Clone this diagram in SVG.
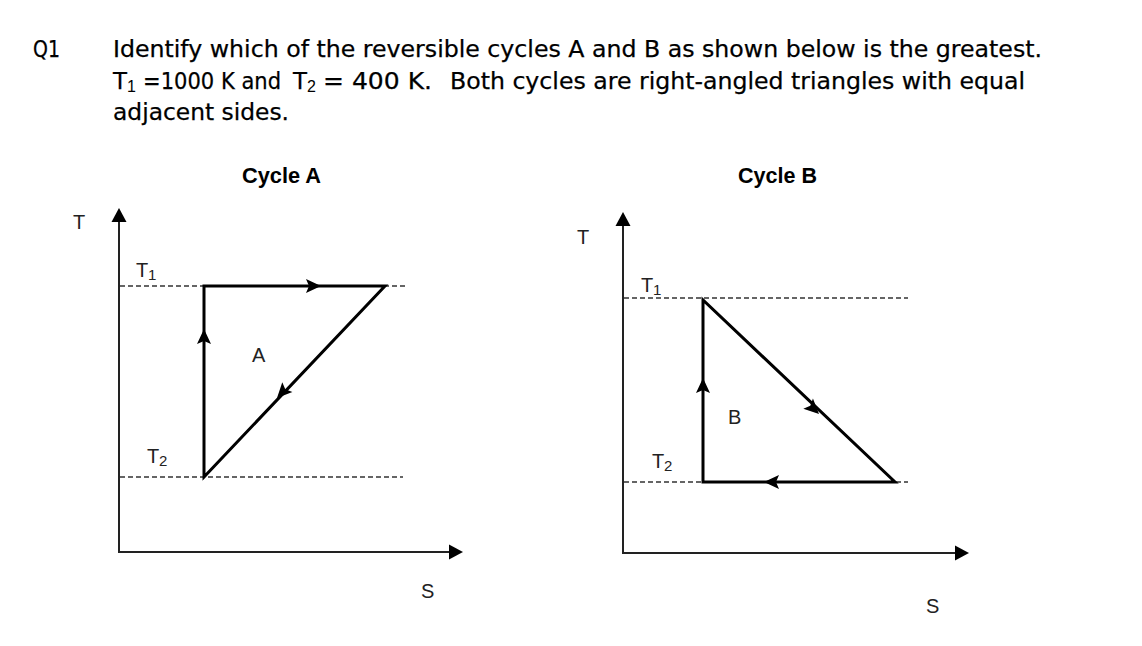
<svg xmlns="http://www.w3.org/2000/svg" width="1142" height="646" viewBox="0 0 1142 646">
<style>
.hd{font-family:"DejaVu Sans",Verdana,sans-serif;font-size:23px;fill:#000;stroke:#000;stroke-width:0.25}
.sub{font-family:"Liberation Sans",Arial,sans-serif;font-size:16px;fill:#000}
.lb{font-family:"Liberation Sans",Arial,sans-serif;font-size:20px;fill:#222}
.lsub{font-family:"Liberation Sans",Arial,sans-serif;font-size:15px;fill:#222}
.ttl{font-family:"Liberation Sans",Arial,sans-serif;font-size:22px;font-weight:bold;fill:#000}
.axis{stroke:#222;stroke-width:2;fill:none}
.dash{stroke:#333;stroke-width:1.5;stroke-dasharray:5 3;fill:none}
.cyc{stroke:#000;stroke-width:3;fill:none;stroke-linejoin:miter}
.ah{fill:#000}
</style>
<defs>
<path id="axh" d="M0,0 L-14,-7.5 L-14,7.5 Z"/>
<path id="mh" d="M0,0 L-15,-7 L-12,0 L-15,7 Z"/>
</defs>
<rect width="1142" height="646" fill="#fff"/>

<g id="question">
<text class="hd" x="33" y="57" textLength="27" lengthAdjust="spacingAndGlyphs">Q1</text>
<text class="hd" x="113" y="57" textLength="929" lengthAdjust="spacingAndGlyphs">Identify which of the reversible cycles A and B as shown below is the greatest.</text>
<text class="hd" x="113" y="89" textLength="14" lengthAdjust="spacingAndGlyphs">T</text>
<text class="sub" x="127" y="92">1</text>
<text class="hd" x="143" y="89" textLength="138" lengthAdjust="spacingAndGlyphs">=1000 K and</text>
<text class="hd" x="293" y="89" textLength="14" lengthAdjust="spacingAndGlyphs">T</text>
<text class="sub" x="307" y="92">2</text>
<text class="hd" x="323" y="89" textLength="109" lengthAdjust="spacingAndGlyphs">= 400 K.</text>
<text class="hd" x="450" y="89" textLength="575" lengthAdjust="spacingAndGlyphs">Both cycles are right-angled triangles with equal</text>
<text class="hd" x="113" y="120" textLength="176" lengthAdjust="spacingAndGlyphs">adjacent sides.</text>
</g>

<g id="chartA">
<text class="ttl" x="242" y="183" textLength="79" lengthAdjust="spacingAndGlyphs">Cycle A</text>
<line class="axis" x1="119" y1="552" x2="119" y2="220"/>
<use href="#axh" class="ah" transform="translate(119,208) rotate(-90)"/>
<line class="axis" x1="118" y1="552" x2="450" y2="552"/>
<use href="#axh" class="ah" transform="translate(463,552)"/>
<text class="lb" x="73" y="229">T</text>
<text class="lb" x="421" y="598">S</text>
<line class="dash" x1="120" y1="286" x2="405" y2="286"/>
<line class="dash" x1="120" y1="477" x2="403" y2="477"/>
<text class="lb" x="136" y="277">T</text>
<text class="lsub" x="148" y="280">1</text>
<text class="lb" x="147" y="463">T</text>
<text class="lsub" x="159" y="466">2</text>
<text class="lb" x="252" y="362">A</text>
</g>

<g id="chartB">
<text class="ttl" x="738" y="183" textLength="79" lengthAdjust="spacingAndGlyphs">Cycle B</text>
<line class="axis" x1="623" y1="553" x2="623" y2="224"/>
<use href="#axh" class="ah" transform="translate(623,212) rotate(-90)"/>
<line class="axis" x1="622" y1="553" x2="956" y2="553"/>
<use href="#axh" class="ah" transform="translate(969,553)"/>
<text class="lb" x="577" y="244">T</text>
<text class="lb" x="926" y="613">S</text>
<line class="dash" x1="624" y1="298" x2="908" y2="298"/>
<line class="dash" x1="624" y1="482" x2="908" y2="482"/>
<text class="lb" x="641" y="292">T</text>
<text class="lsub" x="653" y="295">1</text>
<text class="lb" x="652" y="468">T</text>
<text class="lsub" x="664" y="471">2</text>
<text class="lb" x="728" y="424">B</text>
</g>

<g id="connectors">
<path class="cyc" d="M204,477 L204,286 L385,286 Z"/>
<use href="#mh" class="ah" transform="translate(321,286)"/>
<use href="#mh" class="ah" transform="translate(204,329) rotate(-90)"/>
<use href="#mh" class="ah" transform="translate(277,398) rotate(133.6)"/>
<path class="cyc" d="M703,482 L703,300 L895,482 Z"/>
<use href="#mh" class="ah" transform="translate(703,378) rotate(-90)"/>
<use href="#mh" class="ah" transform="translate(819,414) rotate(43.5)"/>
<use href="#mh" class="ah" transform="translate(764,482) rotate(180)"/>
</g>
</svg>
